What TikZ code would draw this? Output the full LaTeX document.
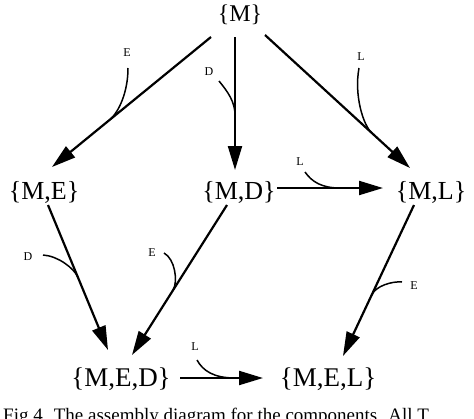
\documentclass[tikz,border=0pt]{standalone}
\usepackage{fontspec}
\setmainfont{Liberation Serif}
\usetikzlibrary{arrows.meta,calc}
\begin{document}
\begin{tikzpicture}[x=1pt,y=-1pt,
  setnode/.style={anchor=base,inner sep=0pt,font=\fontsize{26}{30}\selectfont},
  lbl/.style={inner sep=0pt,font=\fontsize{12}{14}\selectfont},
  arr/.style={line width=2.2pt,-{Triangle[length=24pt,width=14pt]}},
  feed/.style={line width=1.5pt}]
\useasboundingbox (0,0) rectangle (474,418);
\clip (0,0) rectangle (474,418);
\fill[white] (0,0) rectangle (474,418);
% set nodes
\node[setnode,font=\fontsize{24}{28}\selectfont] (m) at (240,21) {\{M\}};
\node[setnode] (me) at (44,199) {\{M,E\}};
\node[setnode] (md) at (239,199) {\{M,D\}};
\node[setnode] (ml) at (431,199) {\{M,L\}};
\node[setnode,font=\fontsize{27}{31}\selectfont] (med) at (121,386) {\{M,E,D\}};
\node[setnode,font=\fontsize{27}{31}\selectfont] (mel) at (328,386) {\{M,E,L\}};
% labels
\node[lbl] (e1) at (127,53) {E};
\node[lbl] (d1) at (209,72) {D};
\node[lbl] (l1) at (361,57) {L};
\node[lbl] (l2) at (300,162) {L};
\node[lbl] (d2) at (28,257) {D};
\node[lbl] (e2) at (152,253) {E};
\node[lbl] (e3) at (414,286) {E};
\node[lbl] (l3) at (195,347) {L};
% arrows
\draw[arr] ($(m.base)+(-29,16)$) -- coordinate[pos=0.635](j1) ($(me.base)+(8,-32)$);
\draw[arr] ($(m.base)+(-5,16)$) -- coordinate[pos=0.586](j2) ($(md.base)+(-4,-29)$);
\draw[arr] ($(m.base)+(25,14)$) -- coordinate[pos=0.738](j3) ($(ml.base)+(-21,-31)$);
\draw[arr] ($(md.base)+(38,-11)$) -- coordinate[pos=0.594](j4) ($(ml.base)+(-48,-11)$);
\draw[arr] ($(me.base)+(4,6)$) -- coordinate[pos=0.497](j5) ($(med.base)+(-13,-36)$);
\draw[arr] ($(md.base)+(-12,6)$) -- coordinate[pos=0.567](j6) ($(med.base)+(11,-31)$);
\draw[arr] ($(ml.base)+(-17,6)$) -- coordinate[pos=0.596](j7) ($(mel.base)+(15,-30)$);
\draw[arr] ($(med.base)+(59,-8)$) -- coordinate[pos=0.663](j8) ($(mel.base)+(-65,-8)$);
% feeding curves
\draw[feed] ($(e1)+(1,15)$) .. controls +(0,24) and +(9,-8) .. (j1);
\draw[feed] ($(d1)+(10,9)$) .. controls +(9,11) and +(0,-13) .. (j2);
\draw[feed] ($(l1)+(-2,11)$) .. controls +(-5,27) and +(-9,-8) .. (j3);
\draw[feed] ($(l2)+(5,10)$) .. controls +(7,10) and +(-18,0) .. (j4);
\draw[feed] ($(d2)+(15,-2)$) .. controls +(15,1) and +(-4,-9) .. (j5);
\draw[feed] ($(e2)+(12,0)$) .. controls +(11,6) and +(5,-9) .. (j6);
\draw[feed] ($(e3)+(-12,-4)$) .. controls +(-10,-1) and +(4,-9) .. (j7);
\draw[feed] ($(l3)+(2,13)$) .. controls +(6,11) and +(-21,0) .. (j8);
% caption (clipped at the bottom edge, as in the reference)
\node[anchor=base west,inner sep=0pt,font=\fontsize{19}{22}\selectfont] (cap) at (3,421) {Fig.4. The assembly diagram for the components. All T};
\end{tikzpicture}
\end{document}
